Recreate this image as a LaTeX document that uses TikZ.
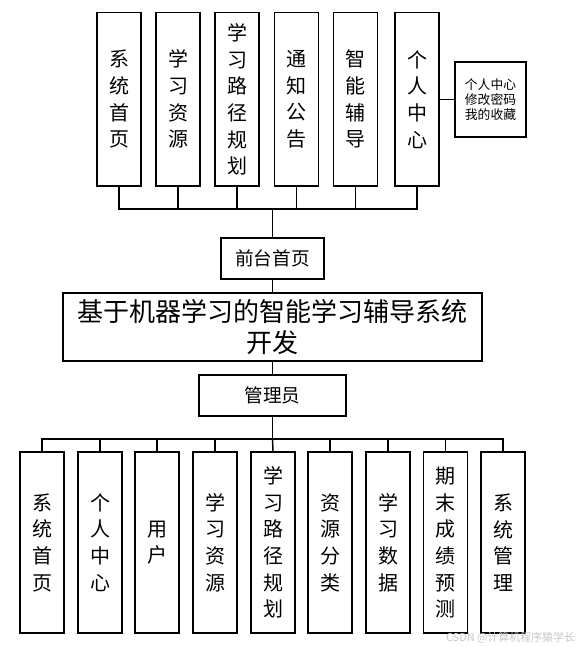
\documentclass[tikz,border=0pt]{standalone}
\usepackage{fontspec}
\setmainfont{Noto Sans CJK SC}
\usepackage{tikz}

\begin{document}
\begin{tikzpicture}[x=0.75pt,y=-0.75pt]
                \useasboundingbox (0,0) rectangle (578,647);
                % front end modules
                \begin{scope}[every node/.style={draw, line width=1.1pt, inner sep=0, align=center, minimum width=33pt, minimum height=130pt, font=\fontsize{15}{20}\selectfont}]
                        \node (Fhome) at (119.2,99.3) {系\\统\\首\\页};
                        \node (Fres) at (178,99.3) {学\\习\\资\\源};
                        \node (Fpath) at (237,99.3) {学\\习\\路\\径\\规\\划};
                        \node (Fnote) at (296.5,99.3) {通\\知\\公\\告};
                        \node (Ftutor) at (355.5,99.3) {智\\能\\辅\\导};
                        \node (Fme) at (417,99.3) {个\\人\\中\\心};
                \end{scope}
                \node [draw, line width=1.1pt, inner sep=0, align=center, minimum width=53pt, minimum height=56pt, font=\fontsize{9.6}{11.3}\selectfont] (Fmenu) at (490.5,99.5) {个人中心\\修改密码\\我的收藏};

                \begin{scope}[every node/.style={draw, line width=1.1pt, inner sep=0, align=center, minimum height=31pt}]
                        \node [minimum width=77pt, font=\fontsize{14}{17}\selectfont] (Front) at (272.5,258.5) {前台首页};
                        \node [minimum width=314pt, minimum height=51pt, font=\fontsize{19.5}{23.5}\selectfont] (Sys) at (272.5,327) {基于机器学习的智能学习辅导系统\\开发};
                        \node [minimum width=110pt, font=\fontsize{14}{17}\selectfont] (Admin) at (272.5,395.5) {管理员};
                \end{scope}

                % admin modules
                \begin{scope}[every node/.style={draw, line width=1.1pt, inner sep=0, align=center, minimum width=33pt, minimum height=136pt, font=\fontsize{15}{20}\selectfont}]
                        \node (Ahome) at (42,542.5) {系\\统\\首\\页};
                        \node (Ame) at (100,542.5) {个\\人\\中\\心};
                        \node (Auser) at (157,542.5) {用\\户};
                        \node (Ares) at (215,542.5) {学\\习\\资\\源};
                        \node (Apath) at (273,542.5) {学\\习\\路\\径\\规\\划};
                        \node (Acat) at (330,542.5) {资\\源\\分\\类};
                        \node (Adata) at (388,542.5) {学\\习\\数\\据};
                        \node (Apred) at (445.5,542.5) {期\\末\\成\\绩\\预\\测};
                        \node (Asys) at (503,542.5) {系\\统\\管\\理};
                \end{scope}

                \node [text=black!22, font=\fontsize{8.2}{9}\selectfont, inner sep=0] (Mark) at (510.5,637.5) {CSDN @计算机程序猿学长};

                \coordinate (Tbus) at (272.5,209);
                \coordinate (Bbus) at (272.5,439);

                \begin{scope}[every path/.style={line width=1.1pt}]
                        \draw (Fhome.south) |- (Tbus);
                        \draw (Fres.south) |- (Tbus);
                        \draw (Fpath.south) |- (Tbus);
                        \draw (Fnote.south) |- (Tbus);
                        \draw (Ftutor.south) |- (Tbus);
                        \draw (Fme.south) |- (Tbus);
                        \draw (Fme.east) -- (Fme.east -| Fmenu.west);
                        \draw (Tbus) -- (Front.north);
                        \draw (Front.south) -- (Sys.north);
                        \draw (Sys.south) -- (Admin.north);
                        \draw (Admin.south) -- (Bbus);
                        \draw (Bbus) -| (Ahome.north);
                        \draw (Bbus) -| (Ame.north);
                        \draw (Bbus) -| (Auser.north);
                        \draw (Bbus) -| (Ares.north);
                        \draw (Bbus) -- (Apath.north);
                        \draw (Bbus) -| (Acat.north);
                        \draw (Bbus) -| (Adata.north);
                        \draw (Bbus) -| (Apred.north);
                        \draw (Bbus) -| (Asys.north);
                \end{scope}
\end{tikzpicture}
\end{document}
